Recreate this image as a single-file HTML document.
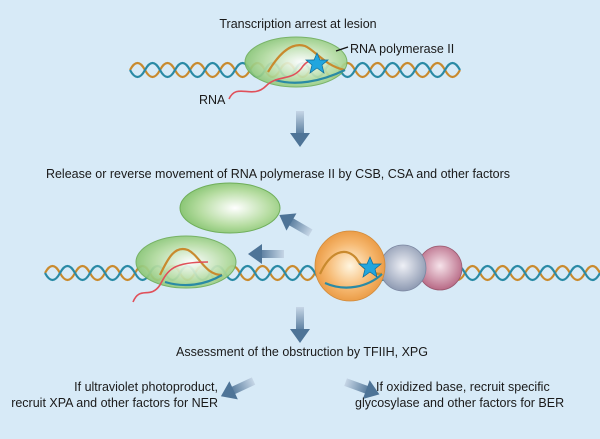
<!DOCTYPE html>
<html><head><meta charset="utf-8"><style>
html,body{margin:0;padding:0;background:#d7eaf7;}
svg{display:block}
text{font-family:"Liberation Sans",sans-serif;font-size:12.5px;fill:#1a1a1a}
</style></head><body>
<svg width="600" height="439" viewBox="0 0 600 439">
<defs>
<radialGradient id="g" cx="0.55" cy="0.5" r="0.6"><stop offset="0" stop-color="#ffffff"/><stop offset="0.6" stop-color="#b5dca0"/><stop offset="1" stop-color="#7fc06a"/></radialGradient>
<radialGradient id="o" cx="0.5" cy="0.5" r="0.55"><stop offset="0" stop-color="#fff6e0"/><stop offset="0.6" stop-color="#f6b870"/><stop offset="1" stop-color="#e8953c"/></radialGradient>
<radialGradient id="gr" cx="0.5" cy="0.45" r="0.55"><stop offset="0" stop-color="#eef0f6"/><stop offset="1" stop-color="#8e9ab2"/></radialGradient>
<radialGradient id="pk" cx="0.5" cy="0.45" r="0.55"><stop offset="0" stop-color="#f6e3ea"/><stop offset="1" stop-color="#b86a86"/></radialGradient>
<linearGradient id="ar" x1="0" y1="0" x2="1" y2="0"><stop offset="0" stop-color="#4e7497"/><stop offset="1" stop-color="#c6d6e6"/></linearGradient>
<g id="arrow"><path d="M0,-4 L26,-4 L26,4 L0,4 Z" fill="url(#ar)"/><path d="M-10,0 L4,-10 L4,10 Z" fill="#4e7497"/></g>
</defs>

<text x="298" y="28" text-anchor="middle">Transcription arrest at lesion</text>
<path d="M130,70 q7.5,-14 15,0 t15,0 t15,0 t15,0 t15,0 t15,0 t15,0 t15,0 t15,0 t15,0 t15,0 t15,0 t15,0 t15,0 t15,0 t15,0 t15,0 t15,0 t15,0 t15,0 t15,0 t15,0" fill="none" stroke="#c98a2e" stroke-width="2.2"/>
<path d="M130,70 q7.5,14 15,0 t15,0 t15,0 t15,0 t15,0 t15,0 t15,0 t15,0 t15,0 t15,0 t15,0 t15,0 t15,0 t15,0 t15,0 t15,0 t15,0 t15,0 t15,0 t15,0 t15,0 t15,0" fill="none" stroke="#2a8aa5" stroke-width="2.2"/>
<ellipse cx="296" cy="62" rx="51" ry="25" fill="url(#g)" stroke="#6fae5a" stroke-width="1" opacity="0.9"/>
<path d="M268,72 C280,52 292,42 305,46 C315,50 325,66 345,70" fill="none" stroke="#c98a2e" stroke-width="2.2"/>
<path d="M275,80 C295,86 320,82 345,70" fill="none" stroke="#2a8aa5" stroke-width="2.2"/>
<path d="M229,99 C237,82 252,100 266,86 C278,74 293,82 303,66 C308,60 312,60 317,60" fill="none" stroke="#e0505a" stroke-width="1.6"/>
<polygon points="317,53 320,60 328,60 322,65 324,73 317,68 310,73 312,65 306,60 314,60" fill="#22a6de" stroke="#0b6c9a" stroke-width="0.7"/>
<line x1="336" y1="51" x2="348" y2="47" stroke="#111" stroke-width="1.2"/>
<text x="350" y="53">RNA polymerase II</text>
<text x="199" y="104">RNA</text>

<g transform="translate(300,137) rotate(-90)"><use href="#arrow"/></g>

<text x="278" y="178" text-anchor="middle">Release or reverse movement of RNA polymerase II by CSB, CSA and other factors</text>

<ellipse cx="230" cy="208" rx="50" ry="25" fill="url(#g)" stroke="#6fae5a"/>
<path d="M45,273 q7.5,-14 15,0 t15,0 t15,0 t15,0 t15,0 t15,0 t15,0 t15,0 t15,0 t15,0 t15,0 t15,0 t15,0 t15,0 t15,0 t15,0 t15,0 t15,0 t15,0 t15,0 t15,0 t15,0 t15,0 t15,0 t15,0 t15,0 t15,0 t15,0 t15,0 t15,0 t15,0 t15,0 t15,0 t15,0 t15,0 t15,0 t15,0" fill="none" stroke="#c98a2e" stroke-width="2.2"/>
<path d="M45,273 q7.5,14 15,0 t15,0 t15,0 t15,0 t15,0 t15,0 t15,0 t15,0 t15,0 t15,0 t15,0 t15,0 t15,0 t15,0 t15,0 t15,0 t15,0 t15,0 t15,0 t15,0 t15,0 t15,0 t15,0 t15,0 t15,0 t15,0 t15,0 t15,0 t15,0 t15,0 t15,0 t15,0 t15,0 t15,0 t15,0 t15,0 t15,0" fill="none" stroke="#2a8aa5" stroke-width="2.2"/>
<ellipse cx="186" cy="262" rx="50" ry="26" fill="url(#g)" stroke="#6fae5a" opacity="0.92"/>
<path d="M160,275 C168,258 175,245 188,250 C200,256 205,275 222,275" fill="none" stroke="#c98a2e" stroke-width="2.2"/>
<path d="M165,282 C185,288 205,285 222,275" fill="none" stroke="#2a8aa5" stroke-width="2.2"/>
<path d="M133,302 C140,285 150,300 160,285 C168,270 172,262 208,262" fill="none" stroke="#e0505a" stroke-width="1.6"/>

<circle cx="440" cy="268" r="22" fill="url(#pk)" stroke="#9a5a70" stroke-width="0.8"/>
<circle cx="403" cy="268" r="23" fill="url(#gr)" stroke="#7a86a0" stroke-width="0.8"/>
<circle cx="350" cy="266" r="35" fill="url(#o)" stroke="#d08a3a" stroke-width="0.8"/>
<path d="M320,274 C330,252 345,246 356,258 C362,268 370,274 382,274" fill="none" stroke="#c98a2e" stroke-width="2.2"/>
<path d="M325,283 C345,292 368,287 382,274" fill="none" stroke="#2a8aa5" stroke-width="2.2"/>
<polygon points="370,257 373,264 381,264 375,269 377,277 370,272 363,277 365,269 359,264 367,264" fill="#22a6de" stroke="#0b6c9a" stroke-width="0.7"/>

<g transform="translate(258,254)"><use href="#arrow"/></g>
<g transform="translate(288,220) rotate(30)"><use href="#arrow"/></g>
<g transform="translate(300,333) rotate(-90)"><use href="#arrow"/></g>

<text x="302" y="356" text-anchor="middle">Assessment of the obstruction by TFIIH, XPG</text>

<g transform="translate(230,392) rotate(-25)"><use href="#arrow"/></g>
<g transform="translate(370,391) rotate(200)"><use href="#arrow"/></g>

<text x="218" y="391" text-anchor="end">If ultraviolet photoproduct,</text>
<text x="218" y="407" text-anchor="end">recruit XPA and other factors for NER</text>
<text x="376" y="391">If oxidized base, recruit specific</text>
<text x="355" y="407">glycosylase and other factors for BER</text>
</svg>
</body></html>
